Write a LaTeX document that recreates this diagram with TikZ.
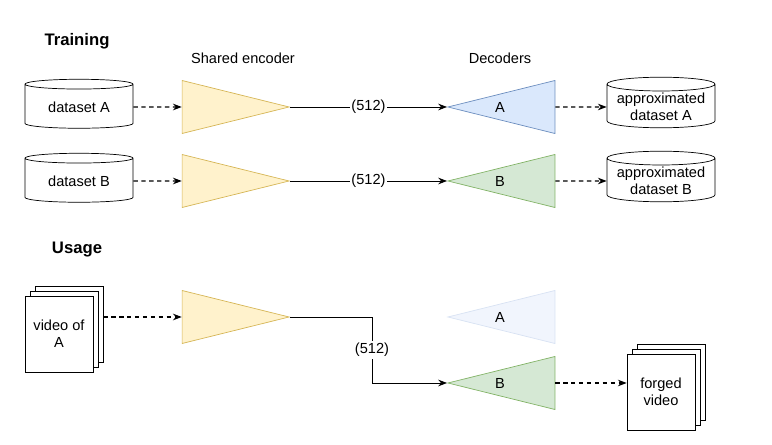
\documentclass[tikz,border=0pt]{standalone}
\usepackage{fontspec}
\setmainfont{Liberation Sans}
\usetikzlibrary{shapes.geometric,arrows.meta,positioning}
\definecolor{encfill}{HTML}{FFF2CC}\definecolor{encdraw}{HTML}{D6B656}
\definecolor{afill}{HTML}{DAE8FC}\definecolor{adraw}{HTML}{6C8EBF}
\definecolor{bfill}{HTML}{D5E8D4}\definecolor{bdraw}{HTML}{82B366}
\definecolor{fadefill}{HTML}{F1F5FD}\definecolor{fadedraw}{HTML}{D8E2F3}
\tikzset{
  tri/.style={isosceles triangle, isosceles triangle stretches, minimum width=1.06cm, minimum height=2.14cm, inner sep=0pt, anchor=apex},
  enc/.style={tri, fill=encfill, draw=encdraw},
  dec/.style={tri, shape border rotate=180},
  db/.style={cylinder, shape border rotate=90, aspect=0.15, draw, minimum width=2.16cm, minimum height=0.98cm, align=center, inner sep=1pt, text depth=0pt},
  page/.style={draw, fill=white, minimum width=1.36cm, minimum height=1.52cm, align=center},
  flow/.style={dash pattern=on 2.5pt off 2pt, line width=0.6pt, -{Stealth[length=5pt]}},
  solid link/.style={-{Stealth[length=5pt]}},
  title/.style={font=\bfseries\fontsize{9.5}{11}\selectfont},
}
\begin{document}
\begin{tikzpicture}[x=0.02cm, y=-0.02cm, every node/.style={font=\fontsize{8.3}{9.8}\selectfont}]
\useasboundingbox (0,0) rectangle (772,445);

% Headers
\node[title] (train) at (77,41) {Training};
\node (enclab) at (243,58) {Shared encoder};
\node (declab) at (500,58) {Decoders};
\node[title] (usage) at (77,250) {Usage};

% Training row A
\node[db] (dsA) at (79,107) {dataset A};
\node[enc] (encA) at (290,107) {};
\node[dec, fill=afill, draw=adraw] (decA) at (447,107) {};
\node (decAlab) at (500,107) {A};
\node[db] (apA) at (661,107) {approximated\\dataset A};
\draw[flow] (dsA) -- (encA.west);
\draw[solid link] (encA.apex) -- node[fill=white, inner sep=1pt] {(512)} (decA.apex);
\draw[flow] (decA.east) -- (apA);

% Training row B
\node[db] (dsB) at (79,181) {dataset B};
\node[enc] (encB) at (290,181) {};
\node[dec, fill=bfill, draw=bdraw] (decB) at (447,181) {};
\node (decBlab) at (500,181) {B};
\node[db] (apB) at (661,181) {approximated\\dataset B};
\draw[flow] (dsB) -- (encB.west);
\draw[solid link] (encB.apex) -- node[fill=white, inner sep=1pt] {(512)} (decB.apex);
\draw[flow] (decB.east) -- (apB);

% Usage
\node[page] (vid3) at (69,324) {};
\node[page] (vid2) at (64,329) {};
\node[page] (vid) at (59,334) {video of\\A};
\node[enc] (encU) at (290,317) {};
\node[dec, fill=fadefill, draw=fadedraw] (decUA) at (447,317) {};
\node (decUAlab) at (500,317) {A};
\node[dec, fill=bfill, draw=bdraw] (decUB) at (447,383) {};
\node (decUBlab) at (500,383) {B};
\node[page] (fv3) at (671,382) {};
\node[page] (fv2) at (666,387) {};
\node[page] (fv) at (661,392) {forged\\video};
\coordinate (bend) at (372,317);
\draw[flow] (vid3.east |- encU.west) -- (encU.west);
\draw[solid link] (encU.apex) -- (bend) -- node[fill=white, inner sep=1pt] {(512)} (bend |- decUB.apex) -- (decUB.apex);
\draw[flow] (decUB.east) -- (fv.west |- decUB.east);
\end{tikzpicture}
\end{document}
